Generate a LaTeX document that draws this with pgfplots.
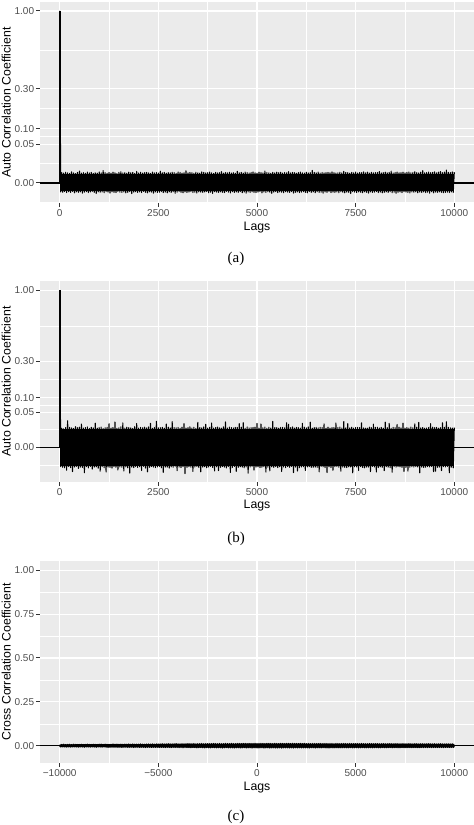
\documentclass[border=0pt]{standalone}
\usepackage{fontspec}
\setmainfont{Liberation Sans}
\newfontfamily\capfont{Liberation Serif}
\usepackage{pgfplots}
\usepackage{pgfplotstable}
\pgfplotsset{compat=1.18}
\definecolor{ggbg}{HTML}{EBEBEB}
\definecolor{ggtick}{HTML}{333333}
\definecolor{ggtext}{HTML}{4D4D4D}

% (a) autocorrelation, lag k = 25*row
\pgfplotstableread[row sep=\\]{
y\\ 1.0\\
-0.0027\\ 0.0036\\ -0.0029\\ 0.0033\\ -0.0025\\ 0.0039\\ -0.0031\\ 0.0035\\ -0.0026\\ 0.0031\\
-0.0030\\ 0.0042\\ -0.0024\\ 0.0034\\ -0.0033\\ 0.0030\\ -0.0027\\ 0.0037\\ -0.0029\\ 0.0048\\
-0.0026\\ 0.0033\\ -0.0035\\ 0.0036\\ -0.0028\\ 0.0032\\ -0.0025\\ 0.0040\\ -0.0031\\ 0.0034\\
-0.0027\\ 0.0038\\ -0.0023\\ 0.0031\\ -0.0030\\ 0.0035\\ -0.0037\\ 0.0033\\ -0.0026\\ 0.0041\\
-0.0029\\ 0.0034\\ -0.0027\\ 0.0052\\ -0.0032\\ 0.0036\\ -0.0025\\ 0.0032\\ -0.0028\\ 0.0037\\
-0.0034\\ 0.0033\\ -0.0026\\ 0.0039\\ -0.0029\\ 0.0035\\ -0.0031\\ 0.0030\\ -0.0024\\ 0.0038\\
-0.0028\\ 0.0043\\ -0.0030\\ 0.0034\\ -0.0027\\ 0.0036\\ -0.0033\\ 0.0032\\ -0.0029\\ 0.0040\\
-0.0025\\ 0.0035\\ -0.0038\\ 0.0037\\ -0.0028\\ 0.0031\\ -0.0026\\ 0.0045\\ -0.0030\\ 0.0034\\
-0.0027\\ 0.0039\\ -0.0031\\ 0.0033\\ -0.0024\\ 0.0036\\ -0.0029\\ 0.0038\\ -0.0032\\ 0.0035\\
-0.0026\\ 0.0031\\ -0.0028\\ 0.0040\\ -0.0035\\ 0.0034\\ -0.0027\\ 0.0037\\ -0.0030\\ 0.0033\\
-0.0029\\ 0.0047\\ -0.0025\\ 0.0035\\ -0.0031\\ 0.0038\\ -0.0028\\ 0.0032\\ -0.0033\\ 0.0036\\
-0.0027\\ 0.0034\\ -0.0030\\ 0.0039\\ -0.0026\\ 0.0036\\ -0.0036\\ 0.0031\\ -0.0028\\ 0.0041\\
-0.0024\\ 0.0037\\ -0.0029\\ 0.0033\\ -0.0032\\ 0.0035\\ -0.0027\\ 0.0050\\ -0.0030\\ 0.0034\\
-0.0028\\ 0.0038\\ -0.0025\\ 0.0036\\ -0.0031\\ 0.0032\\ -0.0029\\ 0.0039\\ -0.0034\\ 0.0035\\
-0.0026\\ 0.0033\\ -0.0028\\ 0.0042\\ -0.0030\\ 0.0037\\ -0.0027\\ 0.0034\\ -0.0025\\ 0.0036\\
-0.0032\\ 0.0040\\ -0.0029\\ 0.0035\\ -0.0037\\ 0.0031\\ -0.0026\\ 0.0038\\ -0.0028\\ 0.0034\\
-0.0030\\ 0.0036\\ -0.0027\\ 0.0044\\ -0.0029\\ 0.0033\\ -0.0031\\ 0.0037\\ -0.0024\\ 0.0035\\
-0.0028\\ 0.0039\\ -0.0033\\ 0.0034\\ -0.0026\\ 0.0036\\ -0.0030\\ 0.0032\\ -0.0027\\ 0.0046\\
-0.0029\\ 0.0035\\ -0.0025\\ 0.0038\\ -0.0032\\ 0.0033\\ -0.0028\\ 0.0040\\ -0.0035\\ 0.0036\\
-0.0027\\ 0.0034\\ -0.0030\\ 0.0037\\ -0.0026\\ 0.0041\\ -0.0029\\ 0.0035\\ -0.0031\\ 0.0033\\
-0.0028\\ 0.0039\\ -0.0024\\ 0.0036\\ -0.0033\\ 0.0034\\ -0.0027\\ 0.0048\\ -0.0030\\ 0.0037\\
-0.0026\\ 0.0035\\ -0.0029\\ 0.0032\\ -0.0036\\ 0.0038\\ -0.0028\\ 0.0034\\ -0.0025\\ 0.0040\\
-0.0031\\ 0.0036\\ -0.0027\\ 0.0039\\ -0.0029\\ 0.0033\\ -0.0032\\ 0.0037\\ -0.0026\\ 0.0035\\
-0.0028\\ 0.0043\\ -0.0030\\ 0.0034\\ -0.0025\\ 0.0038\\ -0.0034\\ 0.0036\\ -0.0029\\ 0.0032\\
-0.0027\\ 0.0037\\ -0.0031\\ 0.0040\\ -0.0028\\ 0.0035\\ -0.0026\\ 0.0033\\ -0.0030\\ 0.0039\\
-0.0033\\ 0.0034\\ -0.0025\\ 0.0036\\ -0.0029\\ 0.0053\\ -0.0027\\ 0.0038\\ -0.0032\\ 0.0035\\
-0.0026\\ 0.0040\\ -0.0030\\ 0.0033\\ -0.0028\\ 0.0037\\ -0.0035\\ 0.0034\\ -0.0027\\ 0.0036\\
-0.0029\\ 0.0038\\ -0.0024\\ 0.0035\\ -0.0031\\ 0.0041\\ -0.0028\\ 0.0036\\ -0.0030\\ 0.0033\\
-0.0027\\ 0.0035\\ -0.0032\\ 0.0039\\ -0.0026\\ 0.0034\\ -0.0029\\ 0.0045\\ -0.0033\\ 0.0037\\
-0.0028\\ 0.0036\\ -0.0030\\ 0.0033\\ -0.0037\\ 0.0038\\ -0.0025\\ 0.0035\\ -0.0028\\ 0.0040\\
-0.0031\\ 0.0034\\ -0.0027\\ 0.0037\\ -0.0029\\ 0.0036\\ -0.0032\\ 0.0042\\ -0.0026\\ 0.0035\\
-0.0029\\ 0.0039\\ -0.0034\\ 0.0033\\ -0.0027\\ 0.0038\\ -0.0030\\ 0.0035\\ -0.0028\\ 0.0036\\
-0.0025\\ 0.0037\\ -0.0031\\ 0.0044\\ -0.0028\\ 0.0034\\ -0.0033\\ 0.0036\\ -0.0029\\ 0.0039\\
-0.0027\\ 0.0035\\ -0.0030\\ 0.0038\\ -0.0026\\ 0.0047\\ -0.0032\\ 0.0034\\ -0.0028\\ 0.0037\\
-0.0036\\ 0.0040\\ -0.0029\\ 0.0035\\ -0.0027\\ 0.0036\\ -0.0031\\ 0.0039\\ -0.0025\\ 0.0034\\
-0.0028\\ 0.0038\\ -0.0030\\ 0.0041\\ -0.0033\\ 0.0035\\ -0.0027\\ 0.0037\\ -0.0029\\ 0.0043\\
-0.0026\\ 0.0036\\ -0.0032\\ 0.0034\\ -0.0028\\ 0.0039\\ -0.0030\\ 0.0051\\ -0.0027\\ 0.0035\\
-0.0031\\ 0.0037\\ -0.0029\\ 0.0040\\ -0.0035\\ 0.0036\\ -0.0026\\ 0.0038\\ -0.0033\\ 0.0042\\
-0.0028\\ 0.0035\\ -0.0030\\ 0.0039\\ -0.0027\\ 0.0044\\ -0.0029\\ 0.0036\\ -0.0032\\ 0.0040\\
-0.0030\\ 0.0056\\ -0.0028\\ 0.0038\\ -0.0031\\ 0.0037\\ -0.0027\\ 0.0041\\ -0.0029\\ 0.0039\\
}\tabA

% (b) autocorrelation, lag k = 25*row
\pgfplotstableread[row sep=\\]{
y\\ 1.0\\
-0.0152\\ 0.0146\\ -0.0163\\ 0.0138\\ -0.0171\\ 0.0158\\ -0.0214\\ 0.0287\\ -0.0149\\ 0.0161\\
-0.0168\\ 0.0152\\ -0.0238\\ 0.0144\\ -0.0157\\ 0.0172\\ -0.0146\\ 0.0155\\ -0.0181\\ 0.0163\\
-0.0159\\ 0.0218\\ -0.0166\\ 0.0149\\ -0.0262\\ 0.0157\\ -0.0151\\ 0.0168\\ -0.0173\\ 0.0145\\
-0.0148\\ 0.0162\\ -0.0192\\ 0.0151\\ -0.0160\\ 0.0236\\ -0.0155\\ 0.0147\\ -0.0178\\ 0.0159\\
-0.0231\\ 0.0166\\ -0.0152\\ 0.0143\\ -0.0169\\ 0.0155\\ -0.0247\\ 0.0161\\ -0.0158\\ 0.0224\\
-0.0163\\ 0.0150\\ -0.0175\\ 0.0158\\ -0.0149\\ 0.0259\\ -0.0161\\ 0.0146\\ -0.0209\\ 0.0153\\
-0.0156\\ 0.0169\\ -0.0162\\ 0.0241\\ -0.0227\\ 0.0148\\ -0.0154\\ 0.0163\\ -0.0170\\ 0.0157\\
-0.0268\\ 0.0152\\ -0.0159\\ 0.0145\\ -0.0166\\ 0.0172\\ -0.0151\\ 0.0229\\ -0.0164\\ 0.0149\\
-0.0153\\ 0.0160\\ -0.0218\\ 0.0155\\ -0.0147\\ 0.0164\\ -0.0176\\ 0.0151\\ -0.0242\\ 0.0168\\
-0.0161\\ 0.0233\\ -0.0150\\ 0.0147\\ -0.0158\\ 0.0159\\ -0.0167\\ 0.0274\\ -0.0155\\ 0.0153\\
-0.0149\\ 0.0156\\ -0.0171\\ 0.0162\\ -0.0253\\ 0.0148\\ -0.0160\\ 0.0219\\ -0.0157\\ 0.0165\\
-0.0174\\ 0.0151\\ -0.0155\\ 0.0266\\ -0.0162\\ 0.0158\\ -0.0146\\ 0.0153\\ -0.0221\\ 0.0160\\
-0.0158\\ 0.0147\\ -0.0167\\ 0.0163\\ -0.0151\\ 0.0228\\ -0.0278\\ 0.0150\\ -0.0163\\ 0.0156\\
-0.0152\\ 0.0171\\ -0.0160\\ 0.0149\\ -0.0235\\ 0.0164\\ -0.0157\\ 0.0145\\ -0.0148\\ 0.0252\\
-0.0165\\ 0.0158\\ -0.0243\\ 0.0153\\ -0.0159\\ 0.0167\\ -0.0153\\ 0.0214\\ -0.0169\\ 0.0150\\
-0.0157\\ 0.0162\\ -0.0150\\ 0.0239\\ -0.0164\\ 0.0149\\ -0.0226\\ 0.0157\\ -0.0155\\ 0.0166\\
-0.0219\\ 0.0154\\ -0.0161\\ 0.0148\\ -0.0152\\ 0.0170\\ -0.0158\\ 0.0262\\ -0.0172\\ 0.0151\\
-0.0150\\ 0.0165\\ -0.0256\\ 0.0157\\ -0.0166\\ 0.0152\\ -0.0148\\ 0.0161\\ -0.0233\\ 0.0159\\
-0.0162\\ 0.0225\\ -0.0153\\ 0.0163\\ -0.0159\\ 0.0247\\ -0.0170\\ 0.0147\\ -0.0156\\ 0.0168\\
-0.0271\\ 0.0152\\ -0.0158\\ 0.0156\\ -0.0147\\ 0.0159\\ -0.0211\\ 0.0164\\ -0.0160\\ 0.0231\\
-0.0154\\ 0.0150\\ -0.0167\\ 0.0220\\ -0.0161\\ 0.0155\\ -0.0152\\ 0.0166\\ -0.0249\\ 0.0148\\
-0.0160\\ 0.0163\\ -0.0224\\ 0.0151\\ -0.0155\\ 0.0270\\ -0.0163\\ 0.0158\\ -0.0150\\ 0.0157\\
-0.0166\\ 0.0149\\ -0.0153\\ 0.0160\\ -0.0237\\ 0.0162\\ -0.0157\\ 0.0153\\ -0.0168\\ 0.0245\\
-0.0151\\ 0.0215\\ -0.0162\\ 0.0155\\ -0.0149\\ 0.0167\\ -0.0260\\ 0.0150\\ -0.0159\\ 0.0161\\
-0.0228\\ 0.0156\\ -0.0170\\ 0.0148\\ -0.0158\\ 0.0233\\ -0.0154\\ 0.0164\\ -0.0216\\ 0.0153\\
-0.0156\\ 0.0168\\ -0.0150\\ 0.0254\\ -0.0163\\ 0.0149\\ -0.0161\\ 0.0157\\ -0.0159\\ 0.0160\\
-0.0162\\ 0.0152\\ -0.0244\\ 0.0161\\ -0.0148\\ 0.0159\\ -0.0155\\ 0.0222\\ -0.0166\\ 0.0147\\
-0.0257\\ 0.0163\\ -0.0156\\ 0.0150\\ -0.0165\\ 0.0155\\ -0.0213\\ 0.0158\\ -0.0152\\ 0.0240\\
-0.0149\\ 0.0157\\ -0.0161\\ 0.0166\\ -0.0230\\ 0.0151\\ -0.0159\\ 0.0268\\ -0.0163\\ 0.0154\\
-0.0167\\ 0.0227\\ -0.0153\\ 0.0152\\ -0.0157\\ 0.0163\\ -0.0265\\ 0.0149\\ -0.0155\\ 0.0159\\
-0.0155\\ 0.0160\\ -0.0218\\ 0.0157\\ -0.0151\\ 0.0243\\ -0.0164\\ 0.0153\\ -0.0170\\ 0.0150\\
-0.0160\\ 0.0148\\ -0.0158\\ 0.0165\\ -0.0239\\ 0.0156\\ -0.0150\\ 0.0217\\ -0.0157\\ 0.0162\\
-0.0248\\ 0.0163\\ -0.0166\\ 0.0151\\ -0.0154\\ 0.0160\\ -0.0161\\ 0.0149\\ -0.0222\\ 0.0258\\
-0.0153\\ 0.0155\\ -0.0160\\ 0.0232\\ -0.0168\\ 0.0147\\ -0.0252\\ 0.0161\\ -0.0149\\ 0.0156\\
-0.0159\\ 0.0210\\ -0.0151\\ 0.0164\\ -0.0156\\ 0.0152\\ -0.0162\\ 0.0237\\ -0.0236\\ 0.0150\\
-0.0164\\ 0.0158\\ -0.0229\\ 0.0149\\ -0.0161\\ 0.0166\\ -0.0153\\ 0.0155\\ -0.0158\\ 0.0221\\
-0.0150\\ 0.0163\\ -0.0157\\ 0.0250\\ -0.0266\\ 0.0153\\ -0.0160\\ 0.0158\\ -0.0165\\ 0.0148\\
-0.0161\\ 0.0151\\ -0.0152\\ 0.0160\\ -0.0155\\ 0.0226\\ -0.0149\\ 0.0164\\ -0.0241\\ 0.0157\\
-0.0232\\ 0.0159\\ -0.0163\\ 0.0147\\ -0.0158\\ 0.0156\\ -0.0219\\ 0.0244\\ -0.0152\\ 0.0162\\
-0.0156\\ 0.0265\\ -0.0150\\ 0.0161\\ -0.0262\\ 0.0154\\ -0.0160\\ 0.0150\\ -0.0171\\ 0.0158\\
}\tabB

% (c) cross correlation, lag k = -10000 + 50*row
\pgfplotstableread[row sep=\\]{
y\\ 0.0000\\
-0.0062\\ 0.0070\\ -0.0058\\ 0.0081\\ -0.0066\\ 0.0064\\ -0.0073\\ 0.0069\\ -0.0060\\ 0.0078\\
-0.0071\\ 0.0063\\ -0.0065\\ 0.0085\\ -0.0059\\ 0.0072\\ -0.0068\\ 0.0066\\ -0.0077\\ 0.0070\\
-0.0064\\ 0.0079\\ -0.0070\\ 0.0067\\ -0.0083\\ 0.0073\\ -0.0061\\ 0.0088\\ -0.0069\\ 0.0071\\
-0.0075\\ 0.0068\\ -0.0063\\ 0.0080\\ -0.0072\\ 0.0074\\ -0.0086\\ 0.0069\\ -0.0067\\ 0.0083\\
-0.0070\\ 0.0091\\ -0.0078\\ 0.0072\\ -0.0065\\ 0.0085\\ -0.0074\\ 0.0077\\ -0.0089\\ 0.0073\\
-0.0081\\ 0.0076\\ -0.0069\\ 0.0094\\ -0.0077\\ 0.0080\\ -0.0073\\ 0.0087\\ -0.0084\\ 0.0079\\
-0.0076\\ 0.0083\\ -0.0092\\ 0.0078\\ -0.0080\\ 0.0090\\ -0.0075\\ 0.0082\\ -0.0088\\ 0.0096\\
-0.0085\\ 0.0079\\ -0.0078\\ 0.0093\\ -0.0097\\ 0.0084\\ -0.0082\\ 0.0089\\ -0.0079\\ 0.0086\\
-0.0090\\ 0.0098\\ -0.0083\\ 0.0087\\ -0.0088\\ 0.0081\\ -0.0101\\ 0.0092\\ -0.0086\\ 0.0095\\
-0.0084\\ 0.0090\\ -0.0096\\ 0.0104\\ -0.0089\\ 0.0088\\ -0.0093\\ 0.0097\\ -0.0087\\ 0.0091\\
-0.0099\\ 0.0094\\ -0.0091\\ 0.0108\\ -0.0095\\ 0.0093\\ -0.0104\\ 0.0099\\ -0.0092\\ 0.0112\\
-0.0097\\ 0.0101\\ -0.0110\\ 0.0096\\ -0.0094\\ 0.0106\\ -0.0100\\ 0.0115\\ -0.0098\\ 0.0103\\
-0.0108\\ 0.0099\\ -0.0102\\ 0.0111\\ -0.0117\\ 0.0104\\ -0.0099\\ 0.0109\\ -0.0106\\ 0.0118\\
-0.0103\\ 0.0112\\ -0.0114\\ 0.0107\\ -0.0101\\ 0.0121\\ -0.0109\\ 0.0105\\ -0.0119\\ 0.0110\\
-0.0111\\ 0.0116\\ -0.0105\\ 0.0124\\ -0.0113\\ 0.0108\\ -0.0122\\ 0.0115\\ -0.0107\\ 0.0119\\
-0.0118\\ 0.0111\\ -0.0125\\ 0.0117\\ -0.0110\\ 0.0126\\ -0.0114\\ 0.0120\\ -0.0121\\ 0.0113\\
-0.0112\\ 0.0123\\ -0.0119\\ 0.0115\\ -0.0128\\ 0.0118\\ -0.0116\\ 0.0129\\ -0.0111\\ 0.0121\\
-0.0124\\ 0.0114\\ -0.0117\\ 0.0127\\ -0.0120\\ 0.0122\\ -0.0130\\ 0.0116\\ -0.0118\\ 0.0125\\
-0.0115\\ 0.0128\\ -0.0126\\ 0.0119\\ -0.0122\\ 0.0131\\ -0.0113\\ 0.0124\\ -0.0127\\ 0.0117\\
-0.0121\\ 0.0126\\ -0.0116\\ 0.0122\\ -0.0132\\ 0.0120\\ -0.0119\\ 0.0133\\ -0.0123\\ 0.0127\\
-0.0128\\ 0.0121\\ -0.0124\\ 0.0130\\ -0.0117\\ 0.0125\\ -0.0131\\ 0.0119\\ -0.0126\\ 0.0134\\
-0.0120\\ 0.0128\\ -0.0133\\ 0.0123\\ -0.0125\\ 0.0118\\ -0.0122\\ 0.0132\\ -0.0129\\ 0.0124\\
-0.0127\\ 0.0117\\ -0.0121\\ 0.0129\\ -0.0134\\ 0.0126\\ -0.0118\\ 0.0122\\ -0.0124\\ 0.0131\\
-0.0119\\ 0.0130\\ -0.0126\\ 0.0120\\ -0.0123\\ 0.0133\\ -0.0130\\ 0.0121\\ -0.0117\\ 0.0127\\
-0.0125\\ 0.0122\\ -0.0118\\ 0.0128\\ -0.0127\\ 0.0116\\ -0.0124\\ 0.0130\\ -0.0121\\ 0.0119\\
-0.0122\\ 0.0126\\ -0.0129\\ 0.0118\\ -0.0115\\ 0.0127\\ -0.0120\\ 0.0123\\ -0.0128\\ 0.0121\\
-0.0117\\ 0.0124\\ -0.0121\\ 0.0129\\ -0.0126\\ 0.0119\\ -0.0113\\ 0.0125\\ -0.0122\\ 0.0128\\
-0.0124\\ 0.0118\\ -0.0127\\ 0.0121\\ -0.0119\\ 0.0126\\ -0.0123\\ 0.0114\\ -0.0120\\ 0.0124\\
-0.0116\\ 0.0123\\ -0.0120\\ 0.0117\\ -0.0125\\ 0.0121\\ -0.0118\\ 0.0127\\ -0.0114\\ 0.0120\\
-0.0121\\ 0.0115\\ -0.0119\\ 0.0124\\ -0.0112\\ 0.0119\\ -0.0123\\ 0.0118\\ -0.0117\\ 0.0122\\
-0.0114\\ 0.0120\\ -0.0122\\ 0.0113\\ -0.0118\\ 0.0123\\ -0.0111\\ 0.0117\\ -0.0120\\ 0.0116\\
-0.0119\\ 0.0112\\ -0.0115\\ 0.0121\\ -0.0113\\ 0.0118\\ -0.0120\\ 0.0111\\ -0.0116\\ 0.0119\\
-0.0112\\ 0.0117\\ -0.0118\\ 0.0110\\ -0.0117\\ 0.0115\\ -0.0109\\ 0.0120\\ -0.0114\\ 0.0113\\
-0.0116\\ 0.0109\\ -0.0111\\ 0.0118\\ -0.0108\\ 0.0114\\ -0.0117\\ 0.0110\\ -0.0112\\ 0.0116\\
-0.0110\\ 0.0115\\ -0.0114\\ 0.0107\\ -0.0113\\ 0.0112\\ -0.0106\\ 0.0117\\ -0.0111\\ 0.0109\\
-0.0113\\ 0.0106\\ -0.0108\\ 0.0114\\ -0.0105\\ 0.0111\\ -0.0112\\ 0.0104\\ -0.0109\\ 0.0113\\
-0.0107\\ 0.0112\\ -0.0110\\ 0.0103\\ -0.0111\\ 0.0108\\ -0.0102\\ 0.0110\\ -0.0106\\ 0.0105\\
-0.0104\\ 0.0109\\ -0.0105\\ 0.0111\\ -0.0100\\ 0.0106\\ -0.0108\\ 0.0101\\ -0.0103\\ 0.0110\\
-0.0102\\ 0.0099\\ -0.0107\\ 0.0104\\ -0.0098\\ 0.0108\\ -0.0101\\ 0.0100\\ -0.0105\\ 0.0097\\
-0.0099\\ 0.0103\\ -0.0096\\ 0.0101\\ -0.0100\\ 0.0095\\ -0.0098\\ 0.0102\\ -0.0094\\ 0.0000\\
}\tabC

% dense core of each band: lag, lower and upper edge of the solid part
\pgfplotstableread[row sep=\\]{
x y\\
25 -0.0021\\ 10000 -0.0021\\ 10000 0.0028\\ 25 0.0028\\
}\coreA
\pgfplotstableread[row sep=\\]{
x y\\
25 -0.0135\\ 10000 -0.0135\\ 10000 0.0135\\ 25 0.0135\\
}\coreB
\pgfplotstableread[row sep=\\]{
x y\\
-10000 -0.0080\\ 0 -0.0115\\ 10000 -0.0100\\ 10000 0.0100\\ 0 0.0115\\ -10000 0.0080\\
}\coreC

\pgfplotsset{
  /pgfplots/table/sq/.style={/pgfplots/table/y expr={sqrt(abs(\thisrow{y}))*(\thisrow{y}<0 ? -1 : 1)}},
  gg/.style={
    scale only axis, width=434bp,
    axis background/.style={fill=ggbg},
    axis line style={draw=none},
    xmajorgrids, ymajorgrids, xminorgrids, yminorgrids,
    major grid style={white, line width=1.1bp},
    minor grid style={white, line width=0.55bp},
    tick align=outside, tick pos=left,
    major tick length=4bp, minor tick length=0bp,
    major tick style={ggtick, line width=1bp},
    scaled x ticks=false, scaled y ticks=false,
    tick label style={font=\fontsize{10bp}{12bp}\selectfont, text=ggtext},
    yticklabel style={anchor=east, inner sep=0pt, xshift=-1.7bp},
    xticklabel style={anchor=north, inner sep=0pt, yshift=-2.7bp},
    /pgf/number format/assume math mode=true,
    every axis y label/.style={at={(axis description cs:-0.078,0.5)}, rotate=90, anchor=center, font=\fontsize{12.3bp}{14bp}\selectfont},
    every axis x label/.style={at={(axis description cs:0.5,-0.121)}, anchor=center, font=\fontsize{12.3bp}{14bp}\selectfont},
    xlabel={Lags},
  },
  sqrty/.style={
    ytick={0,0.22361,0.31623,0.54772,1},
    yticklabels={\mbox{0.00},\mbox{0.05},\mbox{0.10},\mbox{0.30},\mbox{1.00}},
    minor ytick={-0.11180,0.11180,0.26992,0.43197,0.77386},
  },
  lagx/.style={
    xmin=-500, xmax=10500,
    xtick={0,2500,5000,7500,10000},
    xticklabels={\mbox{0},\mbox{2500},\mbox{5000},\mbox{7500},\mbox{10000}},
    minor xtick={1250,3750,6250,8750},
  },
}

\begin{document}
\begin{tikzpicture}
\useasboundingbox (0,0) rectangle (474bp,825bp);

% (a)
\begin{axis}[gg, sqrty, lagx, at={(40bp,622bp)}, anchor=south west, height=201bp,
  ymin=-0.1163, ymax=1.0523, ylabel={Auto Correlation Coefficient}]
\addplot[black, line width=1.3bp] coordinates {(-500,0) (10500,0)};
\addplot[fill=black, draw=none] table[x=x, sq] {\coreA} -- cycle;
\addplot[black, line width=1.1bp, line join=round, mark=none]
  table[x expr=\coordindex*25, y index=0, sq] {\tabA};
\addplot[black, line width=1.6bp] coordinates {(0,0) (0,1)};
\end{axis}

% (b)
\begin{axis}[gg, sqrty, lagx, at={(40bp,343.3bp)}, anchor=south west, height=200.7bp,
  ymin=-0.2191, ymax=1.0592, ylabel={Auto Correlation Coefficient}]
\addplot[black, line width=1.3bp] coordinates {(-500,0) (10500,0)};
\addplot[fill=black, draw=none] table[x=x, sq] {\coreB} -- cycle;
\addplot[black, line width=1.1bp, line join=round, mark=none]
  table[x expr=\coordindex*25, y index=0, sq] {\tabB};
\addplot[black, line width=1.6bp] coordinates {(0,0) (0,1)};
\end{axis}

% (c)
\begin{axis}[gg, at={(40bp,62.3bp)}, anchor=south west, height=201.7bp,
  xmin=-11000, xmax=11000,
  xtick={-10000,-5000,0,5000,10000},
  xticklabels={\mbox{−10000},\mbox{−5000},\mbox{0},\mbox{5000},\mbox{10000}},
  minor xtick={-7500,-2500,2500,7500},
  ymin=-0.0969, ymax=1.053,
  ytick={0,0.25,0.5,0.75,1},
  yticklabels={\mbox{0.00},\mbox{0.25},\mbox{0.50},\mbox{0.75},\mbox{1.00}},
  minor ytick={0.125,0.375,0.625,0.875},
  ylabel={Cross Correlation Coefficient}]
\addplot[black, line width=1.3bp] coordinates {(-11000,0) (11000,0)};
\addplot[fill=black, draw=none] table[x=x, y=y] {\coreC} -- cycle;
\addplot[black, line width=1.2bp, line join=round, mark=none]
  table[x expr=\coordindex*50-10000, y index=0] {\tabC};
\end{axis}

\node[font=\capfont\fontsize{15bp}{18bp}\selectfont] at (236bp,566bp) {(a)};
\node[font=\capfont\fontsize{15bp}{18bp}\selectfont] at (236bp,286bp) {(b)};
\node[font=\capfont\fontsize{15bp}{18bp}\selectfont] at (236bp,8bp) {(c)};
\end{tikzpicture}
\end{document}
